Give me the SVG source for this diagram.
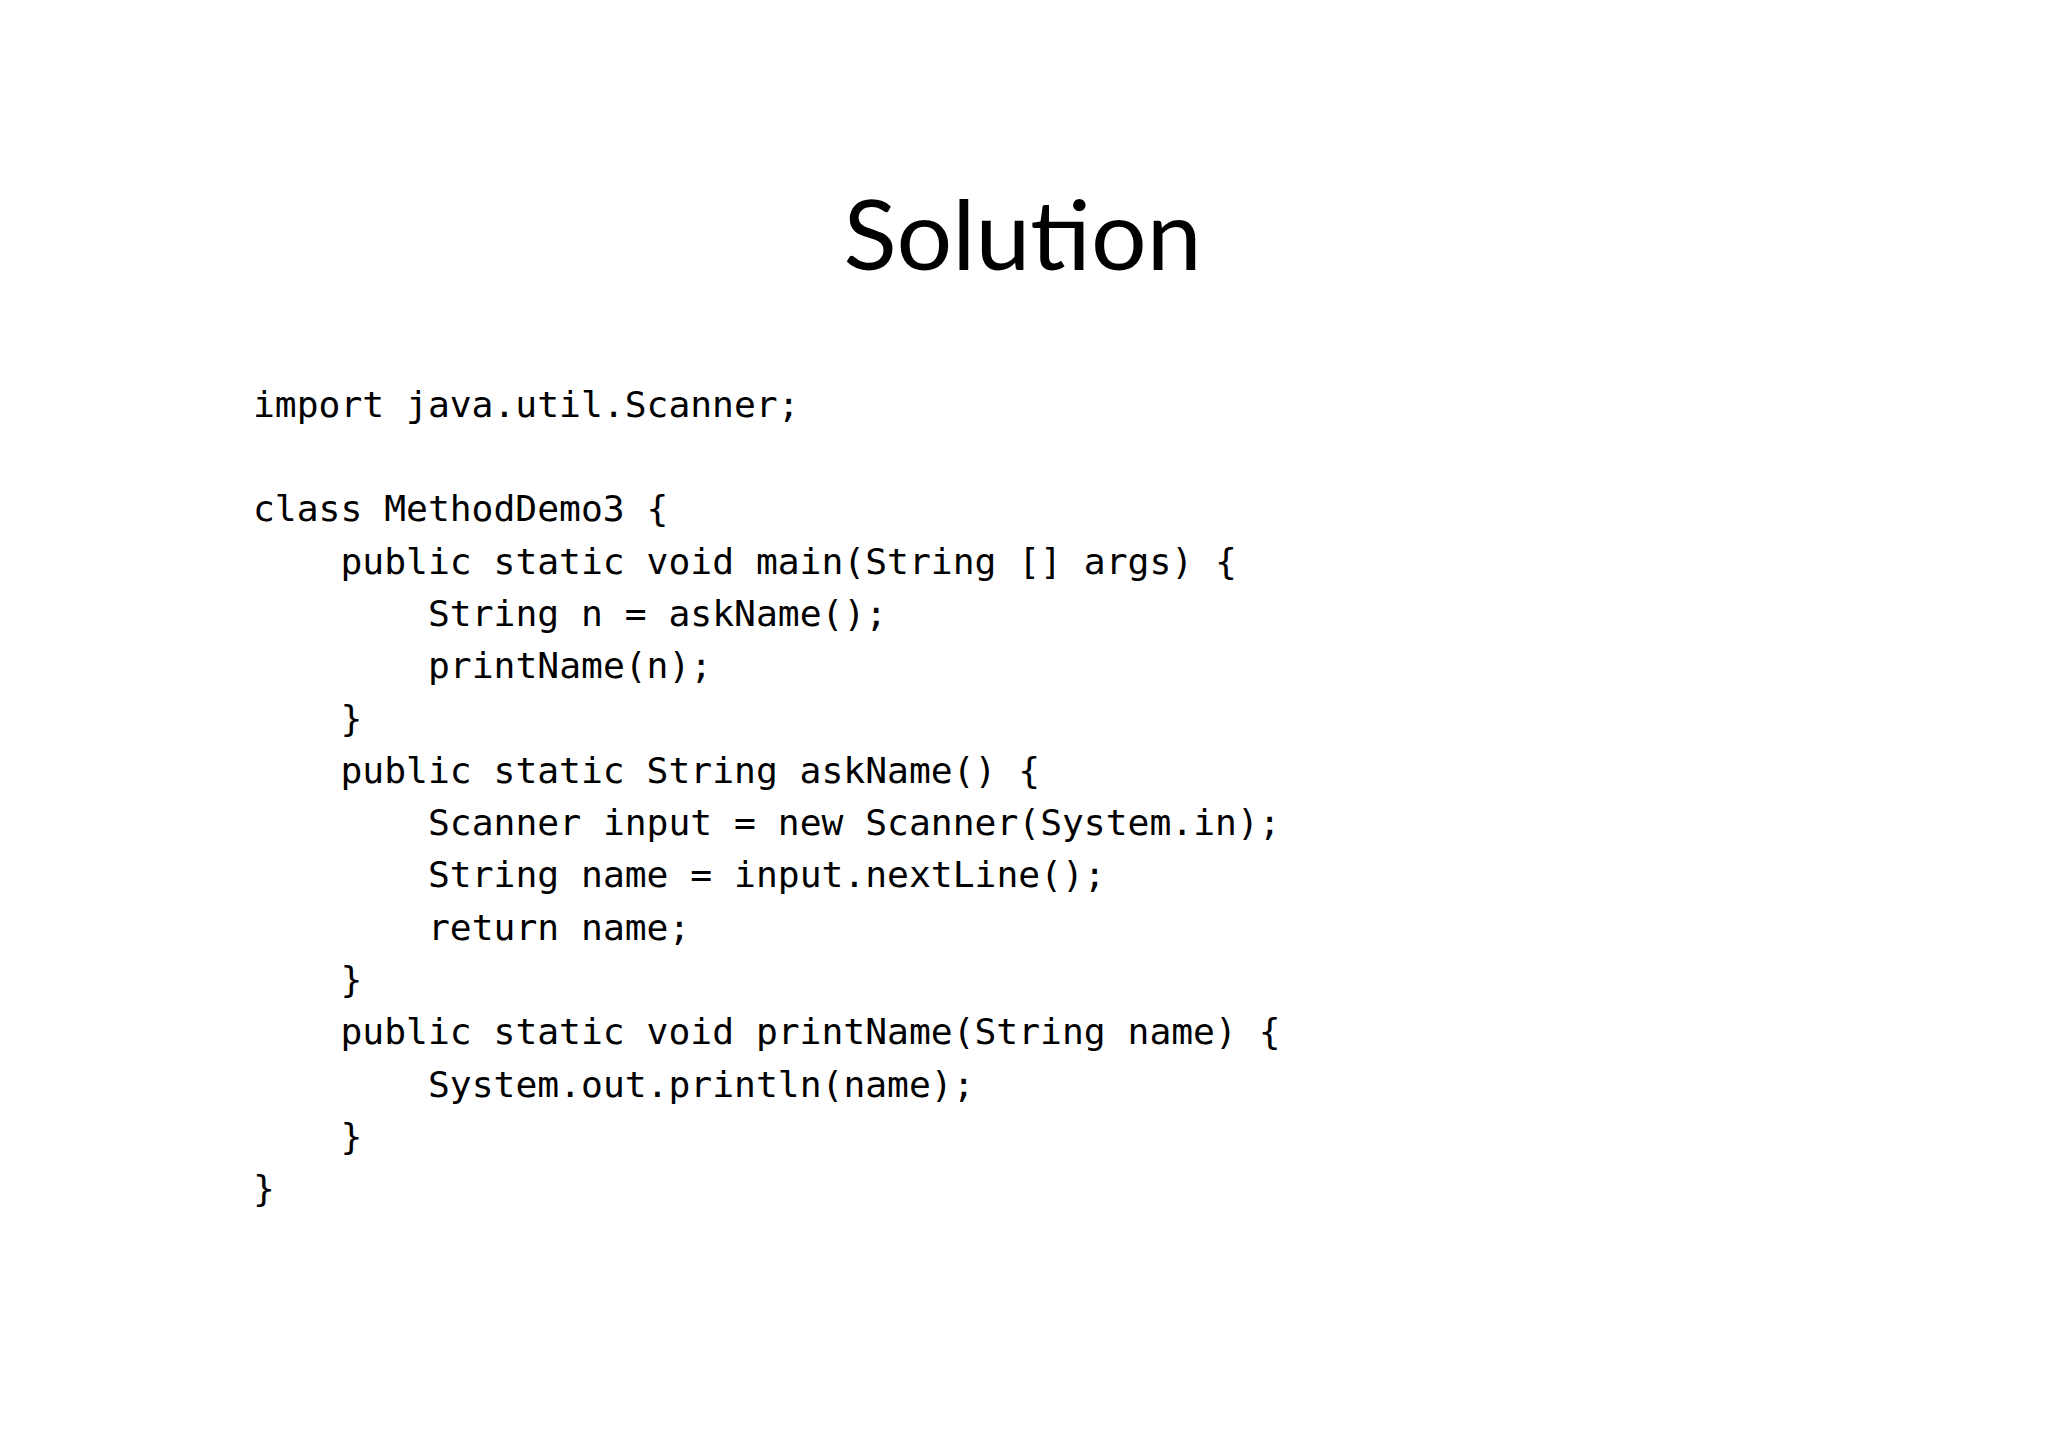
<svg xmlns="http://www.w3.org/2000/svg" width="2048" height="1447" viewBox="0 0 2048 1447">
<style>
.title{font-family:Lato,"Open Sans","Liberation Sans",sans-serif;font-size:96px;fill:#000;}
.code{font-family:"DejaVu Sans Mono","Liberation Mono",monospace;font-size:36.32px;fill:#000;}
</style>
<rect x="0" y="0" width="2048" height="1447" fill="#fff"/>
<g id="title">
<text class="title" x="1022.5" y="270" text-anchor="middle" textLength="358" lengthAdjust="spacingAndGlyphs">Solution</text>
</g>
<g id="code">
<text class="code" x="253" y="416.7">import java.util.Scanner;</text>
<text class="code" x="253" y="521.3">class MethodDemo3 {</text>
<text class="code" x="340.5" y="573.6">public static void main(String [] args) {</text>
<text class="code" x="428" y="625.9">String n = askName();</text>
<text class="code" x="428" y="678.2">printName(n);</text>
<text class="code" x="340.5" y="730.5">}</text>
<text class="code" x="340.5" y="782.8">public static String askName() {</text>
<text class="code" x="428" y="835.1">Scanner input = new Scanner(System.in);</text>
<text class="code" x="428" y="887.4">String name = input.nextLine();</text>
<text class="code" x="428" y="939.7">return name;</text>
<text class="code" x="340.5" y="992">}</text>
<text class="code" x="340.5" y="1044.3">public static void printName(String name) {</text>
<text class="code" x="428" y="1096.6">System.out.println(name);</text>
<text class="code" x="340.5" y="1148.9">}</text>
<text class="code" x="253" y="1201.2">}</text>
</g>
</svg>
